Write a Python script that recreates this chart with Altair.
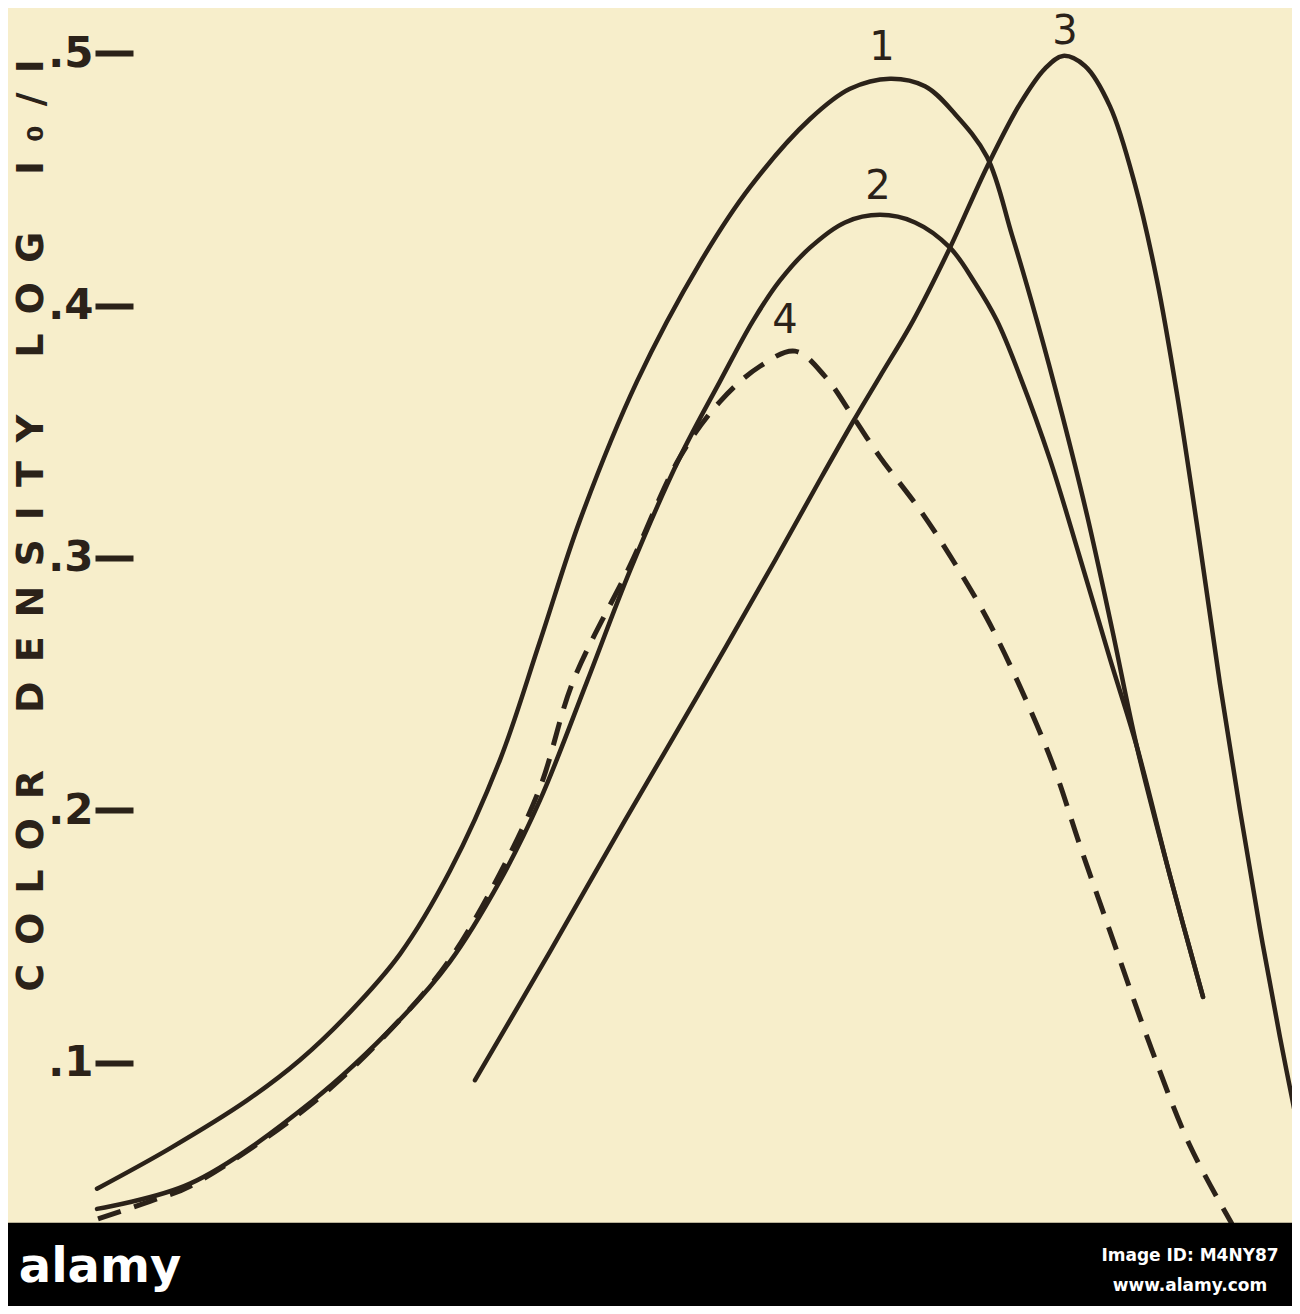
import altair as alt
import pandas as pd

INK = "#2b2219"
PAPER = "#f7eecb"

# horizontal position (arbitrary units along the unlabeled abscissa) and color density values
c1_x = [97, 170, 247, 300, 350, 400, 450, 500, 540, 580, 637, 700, 750, 810, 850, 890, 925, 955, 987, 1012, 1037, 1062, 1087, 1112, 1137, 1170, 1203]
c1_v = [.050, .066, .085, .101, .120, .143, .176, .220, .267, .315, .370, .417, .447, .474, .486, .490, .487, .476, .459, .428, .394, .357, .317, .272, .225, .174, .126]

c2_x = [97, 190, 313, 400, 450, 500, 540, 587, 630, 680, 720, 753, 780, 810, 845, 880, 915, 950, 975, 997, 1020, 1050, 1080, 1110, 1137, 1170, 1203]
c2_v = [.042, .052, .085, .117, .140, .172, .204, .251, .295, .340, .370, .394, .410, .423, .433, .436, .433, .423, .409, .394, .372, .339, .300, .260, .225, .174, .126]

c3_x = [475, 550, 625, 700, 775, 820, 853, 880, 913, 950, 987, 1020, 1045, 1063, 1085, 1110, 1135, 1157, 1177, 1200, 1220, 1240, 1260, 1280, 1297]
c3_v = [.093, .144, .196, .247, .299, .331, .354, .372, .394, .423, .455, .480, .494, .499, .495, .479, .448, .410, .365, .305, .250, .200, .153, .110, .076]

c4_x = [98, 150, 190, 313, 400, 450, 500, 540, 573, 630, 680, 720, 760, 795, 825, 853, 880, 920, 953, 987, 1020, 1053, 1080, 1110, 1150, 1190, 1232]
c4_v = [.038, .045, .051, .084, .117, .141, .175, .209, .251, .297, .340, .362, .376, .382, .372, .356, .340, .319, .299, .276, .249, .218, .186, .152, .107, .067, .036]

curve_labels = ["1", "2", "3", "4"]
label_x = [882, 878, 1065, 785]
label_v = [.502, .447, .5085, .394]

y_ticks = [0.1, 0.2, 0.3, 0.4, 0.5]
x_domain = [8, 1292]
y_domain = [0.0035, 0.518]
band_top = 0.0365

# stock-photo banner along the bottom edge
banner_text = ["alamy", "Image ID: M4NY87", "www.alamy.com"]
banner_x = [100, 1190, 1190]
banner_v = [.0185, .0235, .0115]
banner_size = [48, 17, 17]

def frame(name, xs, vs):
    return pd.DataFrame({"curve": name, "x": xs, "v": vs})

solid = pd.concat([frame("1", c1_x, c1_v), frame("2", c2_x, c2_v), frame("3", c3_x, c3_v)])
dashed = frame("4", c4_x, c4_v)
labels = pd.DataFrame({"t": curve_labels, "x": label_x, "v": label_v})
band = pd.DataFrame({"x": [x_domain[0]], "x2": [x_domain[1]], "v": [y_domain[0]], "v2": [band_top]})
banner = pd.DataFrame({"t": banner_text, "x": banner_x, "v": banner_v, "s": banner_size})

xs = alt.Scale(domain=x_domain, nice=False, zero=False)
ys = alt.Scale(domain=y_domain, nice=False, zero=False)

SP = "\u2002"
words = ["COLOR", "DENSITY", "LOG", "I\u2080/I"]
title_text = (SP * 3).join(SP.join(list(w)) for w in words)

yaxis = alt.Axis(
    values=y_ticks,
    labelExpr="'.' + round(datum.value * 10)",
    domain=False, grid=False,
    tickSize=38, tickWidth=6, tickColor=INK,
    labelFont="DejaVu Sans", labelFontSize=42, labelFontWeight="bold", labelColor=INK,
    labelPadding=2, offset=-125,
    title=title_text, titleFont="DejaVu Sans", titleFontSize=38, titleFontWeight="bold",
    titleColor=INK, titleAngle=270, titleX=-102, titleY=517,
    titleAlign="center", titleBaseline="middle",
)

base_solid = alt.Chart(solid).mark_line(
    interpolate="catmull-rom", color=INK, strokeWidth=4.5, strokeCap="round"
).encode(
    x=alt.X("x:Q", scale=xs, axis=None),
    y=alt.Y("v:Q", scale=ys, axis=yaxis),
    detail="curve:N",
)

dash_line = alt.Chart(dashed).mark_line(
    interpolate="catmull-rom", color=INK, strokeWidth=5, strokeDash=[24, 14]
).encode(
    x=alt.X("x:Q", scale=xs),
    y=alt.Y("v:Q", scale=ys),
)

text = alt.Chart(labels).mark_text(
    font="DejaVu Sans", fontSize=40, color=INK, align="center", baseline="middle"
).encode(
    x=alt.X("x:Q", scale=xs),
    y=alt.Y("v:Q", scale=ys),
    text="t:N",
)

bar = alt.Chart(band).mark_rect(color="#000000").encode(
    x=alt.X("x:Q", scale=xs), x2="x2:Q",
    y=alt.Y("v:Q", scale=ys), y2="v2:Q",
)

banner_marks = alt.Chart(banner).mark_text(
    font="DejaVu Sans", fontWeight="bold", color="#ffffff", align="center", baseline="middle"
).encode(
    x=alt.X("x:Q", scale=xs),
    y=alt.Y("v:Q", scale=ys),
    text="t:N",
    size=alt.Size("s:Q", scale=None, legend=None),
)

chart = alt.layer(base_solid, dash_line, text, bar, banner_marks).properties(
    width=1284, height=1298,
    autosize=alt.AutoSizeParams(type="none"),
    padding=0,
    background=PAPER,
).configure_view(stroke=None)

chart.save("out.html", embed_options={"renderer": "svg", "actions": False})
